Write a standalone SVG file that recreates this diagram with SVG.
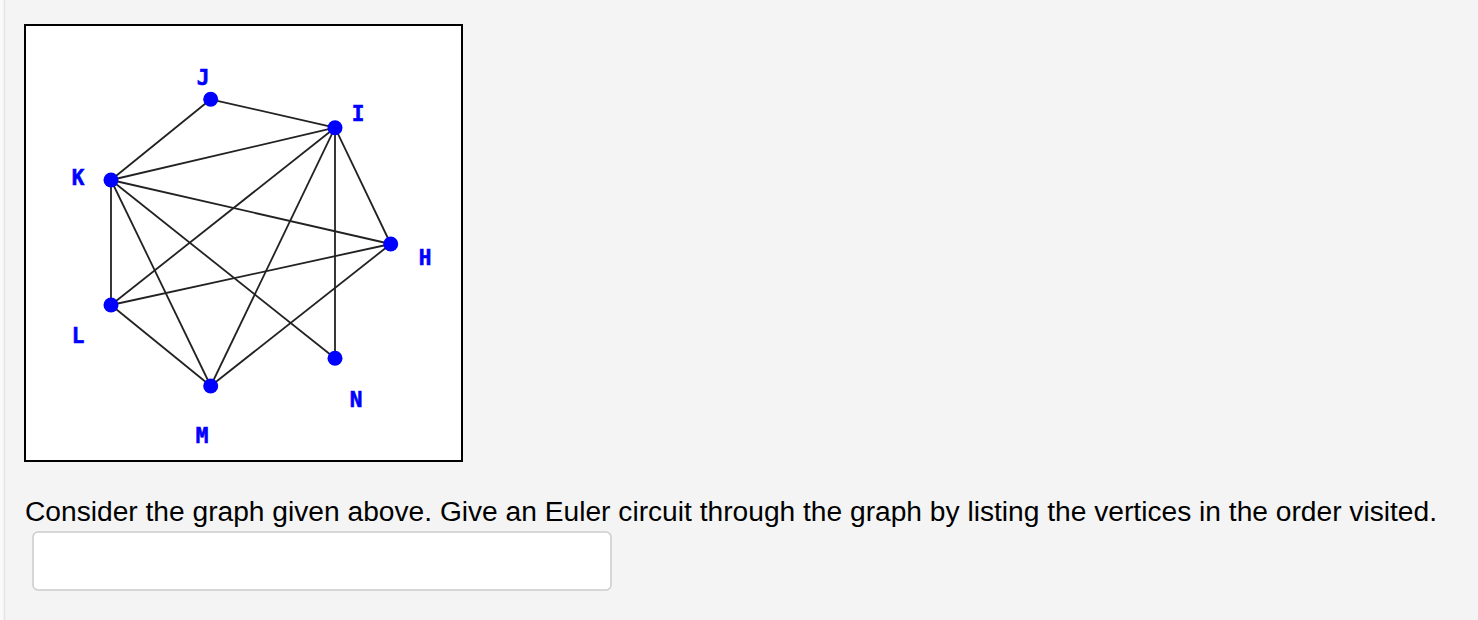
<svg xmlns="http://www.w3.org/2000/svg" width="1478" height="620" viewBox="0 0 1478 620">
<style>
.edge{stroke:#222;stroke-width:1.8;fill:none}
.node{fill:#0000ff}
.lbl{font-family:"DejaVu Sans Mono","Liberation Mono",monospace;font-weight:bold;font-size:21px;fill:#0000ff;stroke:#0000ff;stroke-width:0.6;text-anchor:middle}
.q{font-family:"Liberation Sans",Arial,sans-serif;font-size:27px;fill:#000}
</style>
<rect x="0" y="0" width="1478" height="620" fill="#f4f4f4"/>
<rect x="0" y="0" width="4" height="620" fill="#f9f9f9"/>
<line x1="4.5" y1="0" x2="4.5" y2="620" stroke="#e4e4e4" stroke-width="1.5"/>
<rect x="25" y="25" width="437" height="436" fill="#ffffff" stroke="#000" stroke-width="2"/>
<g id="connectors">
<line class="edge" x1="210.7" y1="99.3" x2="335" y2="127.7"/>
<line class="edge" x1="210.7" y1="99.3" x2="111" y2="180"/>
<line class="edge" x1="111" y1="180" x2="335" y2="127.7"/>
<line class="edge" x1="111" y1="180" x2="390.7" y2="244"/>
<line class="edge" x1="111" y1="180" x2="111" y2="305"/>
<line class="edge" x1="111" y1="180" x2="210.7" y2="386"/>
<line class="edge" x1="111" y1="180" x2="335" y2="358.3"/>
<line class="edge" x1="335" y1="127.7" x2="390.7" y2="244"/>
<line class="edge" x1="335" y1="127.7" x2="335" y2="358.3"/>
<line class="edge" x1="335" y1="127.7" x2="111" y2="305"/>
<line class="edge" x1="335" y1="127.7" x2="210.7" y2="386"/>
<line class="edge" x1="390.7" y1="244" x2="111" y2="305"/>
<line class="edge" x1="390.7" y1="244" x2="210.7" y2="386"/>
<line class="edge" x1="111" y1="305" x2="210.7" y2="386"/>
</g>
<g id="node-J"><circle class="node" cx="210.7" cy="99.3" r="7.5"/><text class="lbl" x="203" y="85">J</text></g>
<g id="node-I"><circle class="node" cx="335" cy="127.7" r="7.5"/><text class="lbl" x="358" y="121">I</text></g>
<g id="node-K"><circle class="node" cx="111" cy="180" r="7.5"/><text class="lbl" x="78" y="185">K</text></g>
<g id="node-H"><circle class="node" cx="390.7" cy="244" r="7.5"/><text class="lbl" x="425" y="265">H</text></g>
<g id="node-L"><circle class="node" cx="111" cy="305" r="7.5"/><text class="lbl" x="78" y="343">L</text></g>
<g id="node-N"><circle class="node" cx="335" cy="358.3" r="7.5"/><text class="lbl" x="356" y="407">N</text></g>
<g id="node-M"><circle class="node" cx="210.7" cy="386" r="7.5"/><text class="lbl" x="202" y="443">M</text></g>
<text class="q" x="25" y="521" textLength="1412" lengthAdjust="spacingAndGlyphs">Consider the graph given above. Give an Euler circuit through the graph by listing the vertices in the order visited.</text>
<rect x="33" y="532" width="578" height="58" rx="5" ry="5" fill="#ffffff" stroke="#cccccc" stroke-width="1.5"/>
</svg>
